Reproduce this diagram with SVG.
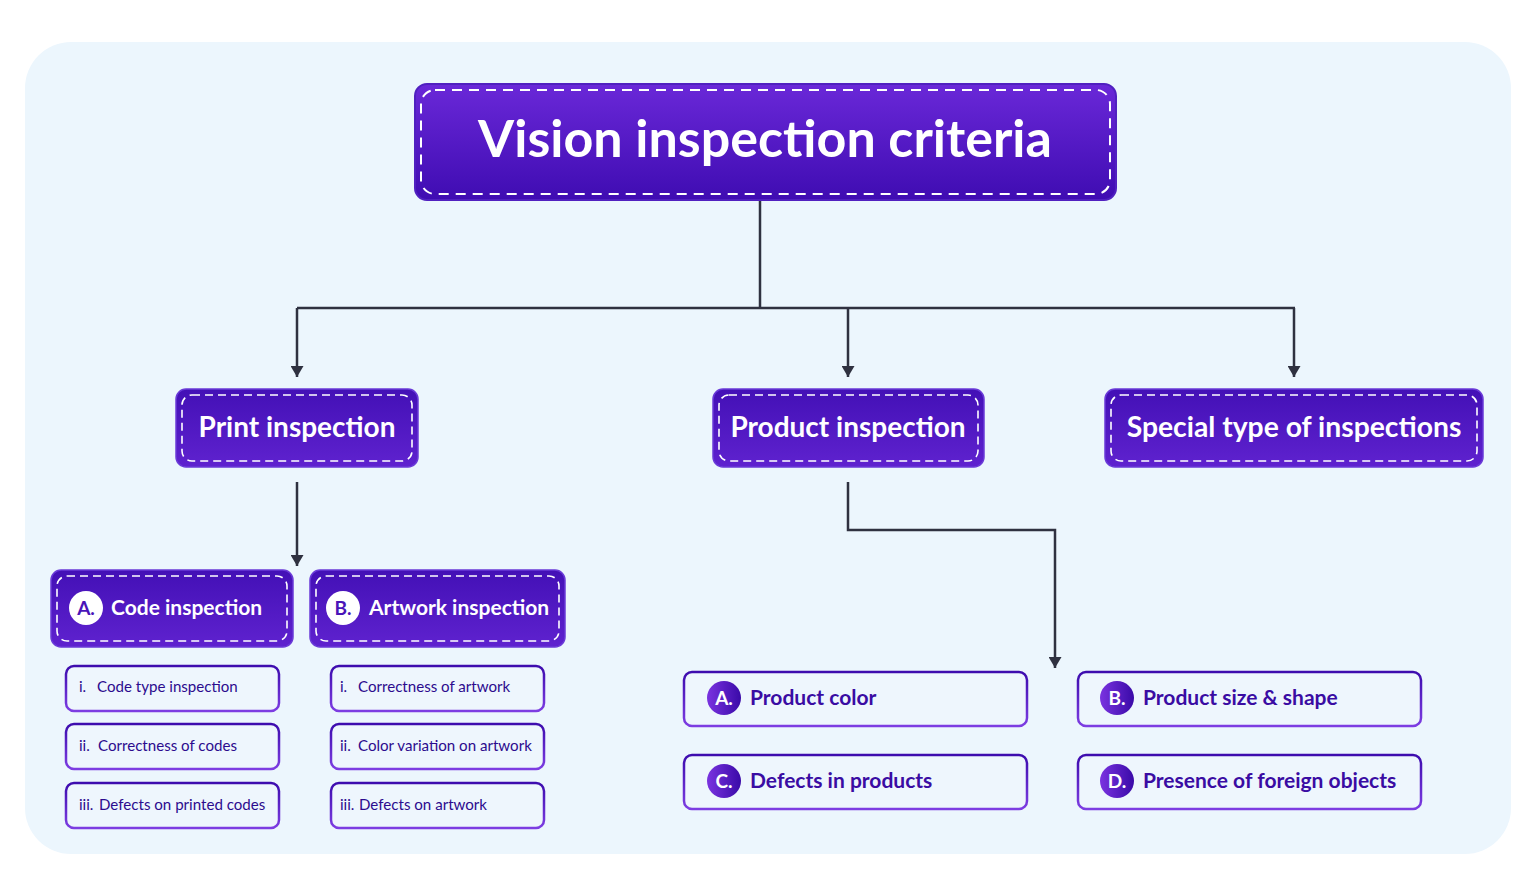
<svg xmlns="http://www.w3.org/2000/svg" width="1536" height="896" viewBox="0 0 1536 896">
<defs>
<linearGradient id="gTitle" x1="0" y1="0" x2="0" y2="1"><stop offset="0" stop-color="#6a28d8"/><stop offset="1" stop-color="#3f0cb2"/></linearGradient>
<linearGradient id="gNode" x1="0" y1="0" x2="0" y2="1"><stop offset="0" stop-color="#4310b6"/><stop offset="1" stop-color="#5f22cf"/></linearGradient>
<linearGradient id="gStroke" x1="0" y1="0" x2="0" y2="1"><stop offset="0" stop-color="#3d0cae"/><stop offset="1" stop-color="#7d3de2"/></linearGradient>
<linearGradient id="gCirc" x1="0" y1="0" x2="1" y2="0"><stop offset="0" stop-color="#7a33e0"/><stop offset="1" stop-color="#3a0aa8"/></linearGradient>
<marker id="arr" viewBox="0 0 11 13" refX="11" refY="6.5" markerWidth="11" markerHeight="13" markerUnits="userSpaceOnUse" orient="auto"><path d="M0,0 L11,6.5 L0,13 Z" fill="#2f3140"/></marker>
<style>
.main{fill:url(#gTitle);stroke:#5020c0;stroke-width:2}
.node{fill:url(#gNode);stroke:#6a3ad8;stroke-width:1.5}
.dash{fill:none;stroke:#fff;stroke-width:2;stroke-dasharray:10 7}
.dashs{fill:none;stroke:#fff;stroke-width:1.6;stroke-dasharray:8 5}
.wt{font-family:Lato,"Noto Sans",sans-serif;font-weight:700;fill:#fff}
.sub{fill:#eef6fd;stroke:url(#gStroke);stroke-width:2.5}
.st{font-family:Lato,"Noto Sans",sans-serif;font-size:15.1px;fill:#2c0b8e}
.pt{font-family:Lato,"Noto Sans",sans-serif;font-weight:700;font-size:21px;fill:#3a0ca3}
.lt{font-family:Lato,"Noto Sans",sans-serif;font-weight:700;font-size:19px;fill:#fff;text-anchor:middle}
.lp{font-family:Lato,"Noto Sans",sans-serif;font-weight:700;font-size:19px;fill:#4a14b8;text-anchor:middle}
.conn{fill:none;stroke:#2f3140;stroke-width:2.5}
</style>
</defs>
<rect width="1536" height="896" fill="#ffffff"/>
<rect x="25" y="42" width="1486" height="812" rx="46" fill="#ecf6fd"/>

<g id="connectors">
<path class="conn" d="M760,200 V308"/>
<path class="conn" d="M297,308 H1295"/>
<path class="conn" d="M297,308 V377" marker-end="url(#arr)"/>
<path class="conn" d="M848,308 V377" marker-end="url(#arr)"/>
<path class="conn" d="M1294,308 V377" marker-end="url(#arr)"/>
<path class="conn" d="M297,482 V566" marker-end="url(#arr)"/>
<path class="conn" d="M848,482 V530 H1055 V668" marker-end="url(#arr)"/>
</g>

<g id="title">
<rect class="main" x="415" y="84" width="701" height="116" rx="12"/>
<rect class="dash" x="421" y="90" width="689" height="104" rx="14"/>
<text class="wt" x="765" y="157" font-size="52" text-anchor="middle">Vision inspection criteria</text>
</g>

<g id="print">
<rect class="node" x="176" y="389" width="242" height="78" rx="10"/>
<rect class="dashs" x="182" y="395" width="230" height="66" rx="10"/>
<text class="wt" x="297" y="437" font-size="28" text-anchor="middle">Print inspection</text>
</g>
<g id="product">
<rect class="node" x="713" y="389" width="271" height="78" rx="10"/>
<rect class="dashs" x="719" y="395" width="259" height="66" rx="10"/>
<text class="wt" x="848" y="437" font-size="28" text-anchor="middle">Product inspection</text>
</g>
<g id="special">
<rect class="node" x="1105" y="389" width="378" height="78" rx="10"/>
<rect class="dashs" x="1111" y="395" width="366" height="66" rx="10"/>
<text class="wt" x="1294" y="437" font-size="28.3" text-anchor="middle">Special type of inspections</text>
</g>

<g id="code">
<rect class="node" x="51" y="570" width="242" height="77" rx="10"/>
<rect class="dashs" x="57" y="576" width="230" height="65" rx="10"/>
<circle cx="86" cy="608" r="17" fill="#fff"/>
<text class="lp" x="86" y="615">A.</text>
<text class="wt" x="111" y="615" font-size="21">Code inspection</text>
</g>
<g id="artwork">
<rect class="node" x="310" y="570" width="255" height="77" rx="10"/>
<rect class="dashs" x="316" y="576" width="243" height="65" rx="10"/>
<circle cx="343" cy="608" r="17" fill="#fff"/>
<text class="lp" x="343" y="615">B.</text>
<text class="wt" x="369" y="615" font-size="21">Artwork inspection</text>
</g>

<g id="code-1"><rect class="sub" x="66" y="666" width="213" height="45" rx="8"/><text class="st" y="692"><tspan x="79">i.</tspan><tspan x="97">Code type inspection</tspan></text></g>
<g id="code-2"><rect class="sub" x="66" y="724" width="213" height="45" rx="8"/><text class="st" y="751"><tspan x="79">ii.</tspan><tspan x="98">Correctness of codes</tspan></text></g>
<g id="code-3"><rect class="sub" x="66" y="783" width="213" height="45" rx="8"/><text class="st" y="810"><tspan x="79">iii.</tspan><tspan x="99">Defects on printed codes</tspan></text></g>
<g id="art-1"><rect class="sub" x="331" y="666" width="213" height="45" rx="8"/><text class="st" y="692"><tspan x="340">i.</tspan><tspan x="358">Correctness of artwork</tspan></text></g>
<g id="art-2"><rect class="sub" x="331" y="724" width="213" height="45" rx="8"/><text class="st" y="751"><tspan x="340">ii.</tspan><tspan x="358">Color variation on artwork</tspan></text></g>
<g id="art-3"><rect class="sub" x="331" y="783" width="213" height="45" rx="8"/><text class="st" y="810"><tspan x="340">iii.</tspan><tspan x="359">Defects on artwork</tspan></text></g>

<g id="prod-a"><rect class="sub" x="684" y="672" width="343" height="54" rx="8"/><circle cx="724" cy="698" r="17" fill="url(#gCirc)"/><text class="lt" x="724" y="705">A.</text><text class="pt" x="750" y="705">Product color</text></g>
<g id="prod-c"><rect class="sub" x="684" y="755" width="343" height="54" rx="8"/><circle cx="724" cy="781" r="17" fill="url(#gCirc)"/><text class="lt" x="724" y="788">C.</text><text class="pt" x="750" y="788">Defects in products</text></g>
<g id="prod-b"><rect class="sub" x="1078" y="672" width="343" height="54" rx="8"/><circle cx="1117" cy="698" r="17" fill="url(#gCirc)"/><text class="lt" x="1117" y="705">B.</text><text class="pt" x="1143" y="705">Product size &amp; shape</text></g>
<g id="prod-d"><rect class="sub" x="1078" y="755" width="343" height="54" rx="8"/><circle cx="1117" cy="781" r="17" fill="url(#gCirc)"/><text class="lt" x="1117" y="788">D.</text><text class="pt" x="1143" y="788">Presence of foreign objects</text></g>
</svg>
